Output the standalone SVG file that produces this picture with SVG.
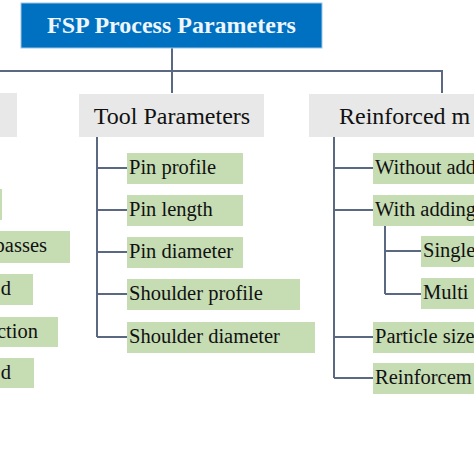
<svg xmlns="http://www.w3.org/2000/svg" width="474" height="474" viewBox="0 0 474 474">
<style>
.bg{fill:#ffffff}
.title{fill:#0070C0;stroke:#9CC6E8;stroke-width:1}
.ttxt{font-family:'Liberation Serif','Tinos','DejaVu Serif',serif;font-weight:bold;font-size:24px;fill:#EEF6FF}
.cat{fill:#E8E8E8}
.ctxt{font-family:'Liberation Serif','Tinos','DejaVu Serif',serif;font-size:24px;fill:#111111}
.leaf{fill:#C6DDB4}
.ltxt{font-family:'Liberation Serif','Tinos','DejaVu Serif',serif;font-size:20.5px;fill:#111111}
.conn{fill:none;stroke:#5A6882;stroke-width:2}
</style>
<rect class="bg" x="0" y="0" width="474" height="474"/>
<g id="connectors">
<path class="conn" d="M172,48 V93 M0,71 H442 V93"/>
<path class="conn" d="M97,137 V337 M97,168 H127 M97,210 H127 M97,252 H127 M97,294 H127 M97,337 H127"/>
<path class="conn" d="M334,137 V378 M334,168 H373 M334,210 H373 M334,337 H373 M334,378 H373"/>
<path class="conn" d="M385,225 V294 M385,251 H421 M385,294 H421"/>
</g>
<g id="root">
<rect class="title" x="21" y="3" width="301" height="45"/>
<text class="ttxt" x="171.5" y="33" text-anchor="middle" font-family="Liberation Serif, serif">FSP Process Parameters</text>
</g>
<g id="cat-left">
<rect class="cat" x="-5" y="93" width="22" height="44"/>
</g>
<g id="cat-tool">
<rect class="cat" x="79" y="94" width="185" height="43"/>
<text class="ctxt" x="172" y="124" text-anchor="middle">Tool Parameters</text>
</g>
<g id="cat-reinforced">
<rect class="cat" x="309" y="94" width="170" height="43"/>
<text class="ctxt" x="339" y="124">Reinforced m</text>
</g>
<g id="left-1"><rect class="leaf" x="-5" y="189" width="7" height="31"/></g>
<g id="left-2"><rect class="leaf" x="-5" y="231" width="75" height="32"/><text class="ltxt" x="47" y="252" text-anchor="end">passes</text></g>
<g id="left-3"><rect class="leaf" x="-5" y="274" width="38" height="31"/><text class="ltxt" x="11" y="295" text-anchor="end">d</text></g>
<g id="left-4"><rect class="leaf" x="-5" y="317" width="63" height="30"/><text class="ltxt" x="38" y="338" text-anchor="end">ction</text></g>
<g id="left-5"><rect class="leaf" x="-5" y="358" width="39" height="30"/><text class="ltxt" x="11" y="379" text-anchor="end">d</text></g>
<g id="pin-profile"><rect class="leaf" x="127" y="153" width="116" height="31"/><text class="ltxt" x="129" y="174">Pin profile</text></g>
<g id="pin-length"><rect class="leaf" x="127" y="195" width="116" height="31"/><text class="ltxt" x="129" y="216">Pin length</text></g>
<g id="pin-diameter"><rect class="leaf" x="127" y="237" width="116" height="31"/><text class="ltxt" x="129" y="258">Pin diameter</text></g>
<g id="shoulder-profile"><rect class="leaf" x="127" y="279" width="173" height="31"/><text class="ltxt" x="129" y="300">Shoulder profile</text></g>
<g id="shoulder-diameter"><rect class="leaf" x="127" y="322" width="188" height="31"/><text class="ltxt" x="129" y="343">Shoulder diameter</text></g>
<g id="without-adding"><rect class="leaf" x="373" y="153" width="106" height="31"/><text class="ltxt" x="375" y="174">Without add</text></g>
<g id="with-adding"><rect class="leaf" x="373" y="195" width="106" height="31"/><text class="ltxt" x="375" y="216">With adding</text></g>
<g id="single"><rect class="leaf" x="421" y="236" width="58" height="31"/><text class="ltxt" x="423" y="257">Single</text></g>
<g id="multi"><rect class="leaf" x="421" y="278" width="58" height="31"/><text class="ltxt" x="423" y="299">Multi</text></g>
<g id="particle-size"><rect class="leaf" x="373" y="322" width="106" height="31"/><text class="ltxt" x="375" y="343">Particle size</text></g>
<g id="reinforcement"><rect class="leaf" x="373" y="363" width="106" height="31"/><text class="ltxt" x="375" y="384">Reinforcem</text></g>
</svg>
